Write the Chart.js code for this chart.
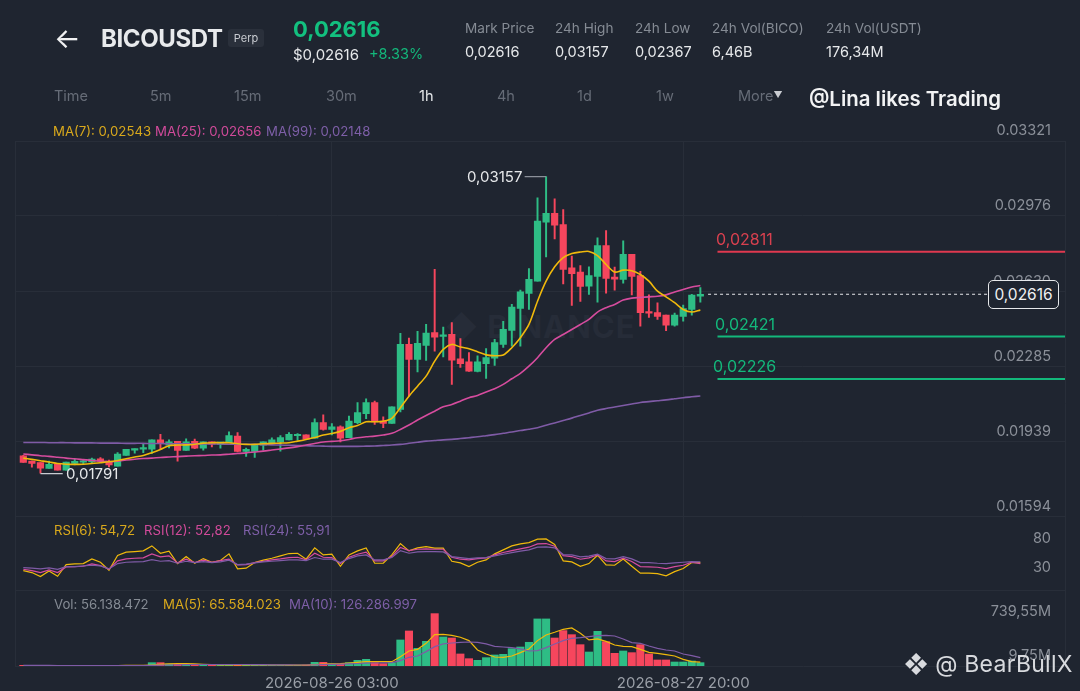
<!DOCTYPE html>
<html>
<head>
<meta charset="utf-8">
<title>BICOUSDT</title>
<style>
  html, body { margin: 0; padding: 0; background: #1f2530; }
  body { width: 1080px; height: 691px; position: relative; overflow: hidden; font-family: Inter, "Noto Sans", sans-serif; color: #e6e8ea; }
  canvas { position: absolute; left: 0; top: 0; }
  .t { position: absolute; white-space: nowrap; line-height: 1; }
  .stat { font-size: 13.6px; color: #858b94; }
  .val { font-size: 14.5px; color: #e6e8ea; }
  .tab { font-size: 14.5px; color: #666c77; top: 89px; }
  .leg { font-size: 13.2px; }
  .yel { color: #d9a91c; } .pnk { color: #d14a9a; } .pur { color: #7e5fa8; }
</style>
</head>
<body>
<div class="t" style="left:445px;top:311px;font-size:31px;font-weight:700;color:#262c38;letter-spacing:1px">◆ BINANCE</div>
<canvas id="klineChart" width="1080" height="691"></canvas>

<div class="t" style="left:54px;top:24px;font-size:28px;color:#f0f1f2">←</div>
<div class="t" style="left:101px;top:27px;font-size:24px;font-weight:700;color:#e8eaec;letter-spacing:-0.4px">BICOUSDT</div>
<div class="t" style="left:228px;top:29px;width:36px;height:18px;line-height:18px;background:#2a303b;border-radius:3px;font-size:11px;text-align:center;color:#c9ccd1">Perp</div>
<div class="t" style="left:293px;top:18px;font-size:22px;font-weight:700;color:#13c07f">0,02616</div>
<div class="t" style="left:293px;top:47px;font-size:15px;color:#e6e8ea">$0,02616</div>
<div class="t" style="left:369px;top:47px;font-size:14.5px;color:#13b87b">+8.33%</div>

<div class="t stat" style="left:465px;top:22px">Mark Price</div><div class="t val" style="left:465px;top:45px">0,02616</div>
<div class="t stat" style="left:555px;top:22px">24h High</div><div class="t val" style="left:555px;top:45px">0,03157</div>
<div class="t stat" style="left:635px;top:22px">24h Low</div><div class="t val" style="left:635px;top:45px">0,02367</div>
<div class="t stat" style="left:712px;top:22px">24h Vol(BICO)</div><div class="t val" style="left:712px;top:45px">6,46B</div>
<div class="t stat" style="left:826px;top:22px">24h Vol(USDT)</div><div class="t val" style="left:826px;top:45px">176,34M</div>

<div class="t tab" style="left:54px">Time</div>
<div class="t tab" style="left:150px">5m</div>
<div class="t tab" style="left:234px">15m</div>
<div class="t tab" style="left:326px">30m</div>
<div class="t tab" style="left:419px;color:#e6e8ea">1h</div>
<div class="t tab" style="left:497px">4h</div>
<div class="t tab" style="left:577px">1d</div>
<div class="t tab" style="left:656px">1w</div>
<div class="t tab" style="left:738px">More<span style="font-size:9px;vertical-align:3px;color:#c9ccd1">▼</span></div>
<div class="t" style="left:809px;top:89px;font-size:20.4px;font-weight:600;color:#f2f3f4">@Lina likes Trading</div>

<div class="t leg yel" style="left:53px;top:125px">MA(7): 0,02543</div>
<div class="t leg pnk" style="left:155px;top:125px">MA(25): 0,02656</div>
<div class="t leg pur" style="left:266px;top:125px">MA(99): 0,02148</div>

<div class="t" style="left:467px;top:169px;font-size:15px;color:#e6e8ea">0,03157</div>
<div class="t" style="left:66px;top:466px;font-size:15px;color:#e6e8ea">0,01791</div>
<div class="t" style="left:716px;top:231px;font-size:16px;color:#d8404f">0,02811</div>
<div class="t" style="left:715px;top:316px;font-size:16px;color:#13b87b">0,02421</div>
<div class="t" style="left:713px;top:358px;font-size:16px;color:#13b87b">0,02226</div>
<div class="t" style="left:988px;top:280px;width:69px;height:27px;line-height:27px;text-align:center;border:1px solid #e6e8ea;border-radius:5px;background:#1f2530;font-size:15.5px;color:#f0f1f2">0,02616</div>

<div class="t leg" style="left:54px;top:524px"><span class="yel">RSI(6): 54,72</span></div>
<div class="t leg" style="left:144px;top:524px"><span class="pnk">RSI(12): 52,82</span></div>
<div class="t leg" style="left:243px;top:524px"><span class="pur">RSI(24): 55,91</span></div>
<div class="t leg" style="left:54px;top:598px;color:#858b94">Vol: 56.138.472</div>
<div class="t leg yel" style="left:163px;top:598px">MA(5): 65.584.023</div>
<div class="t leg pur" style="left:289px;top:598px">MA(10): 126.286.997</div>

<div class="t" style="left:904px;top:653px;font-size:23px;letter-spacing:.25px;color:#d8dade">❖ @ BearBullX</div>

<script src="https://cdn.jsdelivr.net/npm/chart.js@4/dist/chart.umd.min.js"></script>
<script>
// 1h candles, prices
const candleOpen = [0.01873,0.01848,0.01841,0.01815,0.01834,0.01807,0.01838,0.01843,0.01844,0.01859,0.01848,0.01825,0.01874,0.01899,0.01903,0.01903,0.01946,0.01922,0.01939,0.01897,0.01939,0.01908,0.01937,0.01925,0.01933,0.01963,0.01893,0.01893,0.01922,0.01931,0.01937,0.01946,0.01965,0.01969,0.01954,0.02025,0.01994,0.02006,0.01956,0.02025,0.02066,0.02117,0.02032,0.02022,0.02086,0.02385,0.02316,0.0238,0.02439,0.02422,0.02431,0.02319,0.02305,0.02261,0.02297,0.02322,0.02385,0.02449,0.02551,0.0262,0.02676,0.02948,0.02988,0.02937,0.02738,0.02718,0.02653,0.02698,0.0284,0.02695,0.02684,0.02799,0.02702,0.02535,0.02531,0.0252,0.02474,0.02514,0.02546,0.02607];
const candleHigh = [0.01875,0.01848,0.01841,0.01848,0.01834,0.01844,0.01856,0.01854,0.01862,0.01865,0.01853,0.01887,0.01902,0.01905,0.01925,0.01946,0.01971,0.01946,0.01939,0.01951,0.01949,0.01937,0.01937,0.01936,0.01983,0.01979,0.01908,0.01923,0.01937,0.01955,0.01966,0.0198,0.01975,0.01969,0.02043,0.02061,0.02021,0.02011,0.02055,0.02117,0.02135,0.02124,0.02052,0.02098,0.02436,0.02414,0.02445,0.02477,0.0273,0.02465,0.02485,0.02412,0.02348,0.02333,0.02366,0.02408,0.02491,0.02569,0.02635,0.02734,0.0306,0.03157,0.03055,0.03006,0.02791,0.02748,0.02742,0.02876,0.02909,0.02741,0.02862,0.02799,0.02721,0.02613,0.02577,0.0252,0.02529,0.02566,0.02615,0.02647];
const candleLow = [0.01842,0.0182,0.01793,0.01815,0.01807,0.01807,0.01831,0.01834,0.01841,0.01843,0.01822,0.01825,0.01874,0.01885,0.01887,0.01883,0.01906,0.01909,0.01848,0.01897,0.01906,0.01899,0.01913,0.01908,0.01933,0.0189,0.0187,0.01865,0.01899,0.01931,0.01894,0.01946,0.01945,0.01949,0.01954,0.01991,0.01969,0.01936,0.01956,0.02021,0.02043,0.02017,0.02002,0.02022,0.02075,0.02147,0.02258,0.02311,0.02354,0.02327,0.02201,0.02279,0.02261,0.02258,0.02229,0.02288,0.02371,0.02377,0.02377,0.02546,0.02676,0.02788,0.02871,0.02664,0.02564,0.02583,0.02615,0.0258,0.02621,0.02635,0.02667,0.02613,0.02469,0.02509,0.025,0.02448,0.02469,0.02492,0.0252,0.0258];
const candleClose = [0.01842,0.01837,0.01816,0.01833,0.01807,0.01844,0.01847,0.01844,0.01857,0.01848,0.01831,0.0188,0.01902,0.01905,0.01909,0.01946,0.01929,0.01937,0.01897,0.01937,0.01908,0.01937,0.01926,0.01936,0.01966,0.01893,0.01902,0.01923,0.01937,0.01946,0.01956,0.01971,0.01971,0.01949,0.02025,0.01994,0.02006,0.01954,0.02032,0.02071,0.02117,0.02029,0.02022,0.02098,0.02385,0.02316,0.0239,0.02437,0.02419,0.02429,0.02313,0.02297,0.02262,0.02305,0.02325,0.02394,0.02455,0.02557,0.02627,0.02684,0.02952,0.02988,0.02934,0.0273,0.02711,0.02652,0.02702,0.0284,0.02689,0.02685,0.02799,0.02698,0.02531,0.02529,0.02514,0.02474,0.0252,0.0255,0.02612,0.02616];

const ma7 = [0.01862,0.01856,0.0185,0.01844,0.01837,0.01834,0.01833,0.01834,0.01837,0.01841,0.01845,0.01851,0.01859,0.01867,0.01874,0.01887,0.01902,0.01919,0.01922,0.01923,0.01926,0.01931,0.01933,0.01933,0.01933,0.01928,0.01925,0.01925,0.01928,0.0193,0.01931,0.01933,0.0194,0.01948,0.01957,0.01968,0.01975,0.01985,0.02002,0.02012,0.02029,0.02029,0.02032,0.02045,0.02094,0.02147,0.02193,0.02239,0.02308,0.02362,0.02385,0.02373,0.02365,0.02351,0.02337,0.02333,0.02336,0.0237,0.02416,0.02477,0.02584,0.02676,0.02742,0.02784,0.02803,0.0281,0.02813,0.02794,0.02753,0.02718,0.02727,0.02724,0.02707,0.02676,0.0263,0.02604,0.02577,0.02546,0.02534,0.02543];
const ma25 = [0.01881,0.01877,0.01873,0.0187,0.01866,0.01862,0.01859,0.01855,0.01851,0.01848,0.01845,0.01848,0.01853,0.01857,0.0186,0.01862,0.01865,0.01867,0.01869,0.01871,0.01873,0.01874,0.01876,0.01877,0.0188,0.01883,0.01886,0.0189,0.01894,0.01899,0.01904,0.01909,0.01915,0.01922,0.01929,0.01936,0.01939,0.01942,0.01948,0.01956,0.0196,0.01963,0.01968,0.01976,0.01994,0.02014,0.02037,0.02058,0.02078,0.02098,0.02109,0.02124,0.0214,0.0215,0.02166,0.02181,0.02201,0.02227,0.02252,0.02285,0.02324,0.0237,0.02408,0.02431,0.02454,0.02477,0.025,0.02534,0.02554,0.02569,0.02589,0.02598,0.02601,0.02604,0.02607,0.02613,0.02626,0.02638,0.02649,0.02656];
const ma99 = [0.01934,0.01934,0.01934,0.01933,0.01933,0.01933,0.01932,0.01932,0.01932,0.01931,0.01931,0.01931,0.0193,0.0193,0.0193,0.01929,0.01929,0.01928,0.01928,0.01928,0.01928,0.01927,0.01927,0.01927,0.01926,0.01926,0.01926,0.01925,0.01924,0.01923,0.01922,0.01921,0.0192,0.01919,0.01918,0.01917,0.01916,0.01916,0.01916,0.01916,0.01917,0.01918,0.0192,0.01922,0.01925,0.0193,0.01935,0.0194,0.01943,0.01946,0.01948,0.01952,0.01956,0.0196,0.01965,0.0197,0.01976,0.01982,0.01989,0.01995,0.02002,0.02013,0.02024,0.02035,0.02046,0.02058,0.0207,0.02082,0.0209,0.02097,0.02104,0.02111,0.02118,0.02122,0.02126,0.0213,0.02135,0.0214,0.02144,0.02148];

const rsi6 = [41,37.5,30.6,40.4,31.2,51.3,52.4,53,61,55.3,41.5,66.8,72.6,73.7,74.9,83.5,70.8,74.3,53,65.1,53.6,61.6,55.3,58.2,69.7,43.8,45,54.7,58.8,62.2,66.2,70.3,70.8,60.5,80,68,69.1,48.4,68,74.9,80,53.6,53.6,68,87.5,74.9,80,82.3,79.5,79.5,57,54.2,47.8,55.3,59.3,69.7,76.6,83.5,86.9,89.2,95,95.5,85.8,57.6,55.9,48.4,53,67.4,50.7,50.1,61,48.4,36.4,36.4,35.8,31.8,39.2,44.4,54.7,54.72];
const rsi12 = [43.2,41,37.5,42.1,37.5,47.3,47.8,48.4,52.4,49.6,43.2,57.6,61,62.2,62.8,69.7,64.5,66.2,54.2,60.5,54.7,58.8,55.3,58.2,60.5,50.7,51.3,54.7,57,59.3,61,63.4,63.9,59.3,70.8,63.9,63.4,53,63.9,69.1,72.6,57.6,57.6,65.1,80.6,75.4,77.7,78.3,77.7,77.7,63.9,60.5,59.3,61.6,62.8,68,72,75.4,78.3,81.2,86.9,87.5,82.9,66.8,65.1,60.5,62.8,68,57.6,56.5,62.2,56.5,47.8,47.3,46.7,44.4,47.8,50.1,55.3,52.82];
const rsi24 = [46.1,45,43.8,45.5,43.2,47.8,47.8,49,50.1,49,43.8,53,55.3,55.9,56.5,59.9,57,58.2,53.6,57,54.7,56.5,54.7,55.9,58.8,51.3,51.9,54.2,55.9,57,58.2,59.3,59.3,58.2,63.4,60.5,60.5,54.7,61.6,66.2,68,59.3,59.3,63.4,75.4,70.8,73.1,73.7,73.7,73.1,65.1,63.4,61.6,62.8,63.4,66.2,69.1,72,74.3,76.6,81.2,81.8,80,68.5,68,64.5,65.7,69.1,61.6,61,65.1,61,54.7,54.7,53.6,53,54.2,55.3,56.5,55.91];

// volume in millions
const volume = [11,8,11,8,6,8,6,3,6,8,8,11,11,8,11,56,56,34,34,34,22,22,17,17,20,28,17,20,14,14,14,11,11,14,62,62,34,34,56,95,112,56,39,56,437,588,297,414,879,487,470,202,123,95,140,185,196,291,319,398,790,790,470,594,526,358,235,582,409,213,252,224,358,202,101,101,67,67,84,56];
const volMa5 = [8,8,8,8,8,8,7,7,6,6,7,8,9,9,9,17,28,34,40,40,34,28,25,20,20,20,20,20,17,17,17,14,14,14,22,31,34,40,50,62,73,73,73,73,157,252,280,381,526,532,515,482,426,269,202,151,146,168,224,286,426,521,566,616,638,549,437,454,414,353,330,325,280,230,213,190,168,112,73,66];
const volMa10 = [9,9,9,9,8,8,8,8,8,8,8,8,8,8,8,12,14,17,20,22,25,25,25,25,25,25,25,22,22,20,20,20,17,17,20,25,28,31,36,42,48,50,53,56,90,146,168,241,325,370,386,398,403,398,370,330,319,308,286,252,258,308,370,426,465,476,493,510,515,504,454,392,381,336,297,269,252,202,174,140];

const priceTicks = [0.01594, 0.01939, 0.02285, 0.0263, 0.02976, 0.03321];
const rsiTicks = [30, 80];
const volTicks = [9.75, 739.55];
const dateTickIndex = [36, 77];
const dateTickLabels = ["2026-08-26 03:00", "2026-08-27 20:00"];

const resistanceLevel = 0.02811;
const supportLevels = [0.02421, 0.02226];
const lastPrice = 0.02616;
const highPrice = 0.03157;
const lowPrice = 0.01791;

const UP = "#2ebd85", DOWN = "#f6465d";
const GRID = "#282e39";
const YELLOW = "#f0b90b", PINK = "#d64c9e", PURPLE = "#7f5ba6";

const xMin = -0.97, xMax = 121.55;
const levelFrom = 81;

const upDown = candleOpen.map((o, i) => (candleClose[i] >= o ? UP : DOWN));
const series = (arr) => arr.map((v, i) => ({ x: i, y: v }));

function lineSet(arr, color, axis, width, tension) {
  return {
    type: "line",
    data: series(arr),
    yAxisID: axis,
    borderColor: color,
    borderWidth: width,
    pointRadius: 0,
    tension: tension,
    order: 1,
  };
}

function flatLine(x0, x1, y, color, width, dash) {
  return {
    type: "line",
    data: [{ x: x0, y: y }, { x: x1, y: y }],
    yAxisID: "y",
    borderColor: color,
    borderWidth: width,
    borderDash: dash || [],
    pointRadius: 0,
    order: 0,
  };
}

const datasets = [
  lineSet(ma7, YELLOW, "y", 1.6, 0.3),
  lineSet(ma25, PINK, "y", 1.6, 0.3),
  lineSet(ma99, PURPLE, "y", 1.6, 0.3),
  lineSet(rsi24, PURPLE, "rsi", 1.2, 0),
  lineSet(rsi12, PINK, "rsi", 1.2, 0),
  lineSet(rsi6, YELLOW, "rsi", 1.2, 0),
  lineSet(volMa10, PURPLE, "vol", 1.2, 0),
  lineSet(volMa5, YELLOW, "vol", 1.2, 0),
  flatLine(levelFrom, xMax, resistanceLevel, "#e0394f", 2),
  flatLine(levelFrom, xMax, supportLevels[0], "#13b87b", 2),
  flatLine(levelFrom, xMax, supportLevels[1], "#13b87b", 2),
  flatLine(79.9, 112.6, lastPrice, "#e6e8ea", 1.2, [3, 3]),
  flatLine(58.5, 61, highPrice, "#8b9099", 1.2),
  flatLine(2, 4.6, lowPrice, "#c9ccd1", 1.2),
  {
    // wicks
    type: "bar",
    data: candleLow.map((l, i) => ({ x: i, y: [l, candleHigh[i]] })),
    yAxisID: "y",
    backgroundColor: upDown,
    barThickness: 1.3,
    grouped: false,
    order: 3,
  },
  {
    // bodies
    type: "bar",
    data: candleOpen.map((o, i) => ({ x: i, y: [o, candleClose[i]] })),
    yAxisID: "y",
    backgroundColor: upDown,
    barThickness: 6.5,
    minBarLength: 1.5,
    grouped: false,
    order: 2,
  },
  {
    type: "bar",
    data: series(volume),
    yAxisID: "vol",
    backgroundColor: upDown,
    barThickness: 7.4,
    grouped: false,
    order: 2,
  },
];

const tickFont = { family: "Inter", size: 14.5 };

function fixedTicks(values) {
  return function (scale) {
    scale.ticks = values.map((v) => ({ value: v }));
  };
}

function noWidth(scale) {
  scale.width = 0;
}

new Chart(document.getElementById("klineChart").getContext("2d"), {
  type: "bar",
  data: { datasets: datasets },
  options: {
    responsive: false,
    animation: false,
    layout: { padding: { left: 15, right: 15, top: 141, bottom: -9 } },
    plugins: { legend: { display: false }, tooltip: { enabled: false } },
    scales: {
      x: {
        type: "linear",
        offset: false,
        min: xMin,
        max: xMax,
        afterBuildTicks: fixedTicks([xMin, ...dateTickIndex, xMax]),
        grid: { offset: false, color: GRID, drawTicks: false },
        border: { color: GRID },
        ticks: {
          autoSkip: false,
          maxRotation: 0,
          padding: 8,
          color: "#9a9fa7",
          font: { family: "Inter", size: 15 },
          callback: (v) => {
            const k = dateTickIndex.indexOf(v);
            return k >= 0 ? dateTickLabels[k] : "";
          },
        },
      },
      y: {
        position: "right",
        stack: "panes",
        stackWeight: 375,
        min: priceTicks[0],
        max: priceTicks[priceTicks.length - 1],
        afterBuildTicks: fixedTicks(priceTicks),
        afterFit: noWidth,
        grid: { color: GRID, drawTicks: false },
        border: { display: false },
        ticks: {
          autoSkip: false,
          mirror: true,
          padding: -14,
          labelOffset: -10,
          color: "#8b9099",
          font: tickFont,
          callback: (v) => v.toFixed(5),
        },
      },
      rsi: {
        position: "right",
        stack: "panes",
        stackWeight: 74.5,
        min: 5.9,
        max: 134.3,
        afterBuildTicks: fixedTicks([5.9, ...rsiTicks]),
        afterFit: noWidth,
        grid: {
          drawTicks: false,
          color: (c) => (c.tick && c.tick.value === 5.9 ? GRID : "transparent"),
        },
        border: { display: false },
        ticks: {
          autoSkip: false,
          mirror: true,
          padding: -14,
          labelOffset: -9,
          color: "#8b9099",
          font: tickFont,
          callback: (v) => (rsiTicks.includes(v) ? String(v) : ""),
        },
      },
      vol: {
        position: "right",
        stack: "panes",
        stackWeight: 75,
        min: 0,
        max: 1260,
        afterBuildTicks: fixedTicks(volTicks),
        afterFit: noWidth,
        grid: { display: false, drawTicks: false },
        border: { display: false },
        ticks: {
          autoSkip: false,
          mirror: true,
          padding: -14,
          labelOffset: -10,
          color: "#8b9099",
          font: tickFont,
          callback: (v) => v.toFixed(2).replace(".", ",") + "M",
        },
      },
    },
  },
});
</script>
</body>
</html>
